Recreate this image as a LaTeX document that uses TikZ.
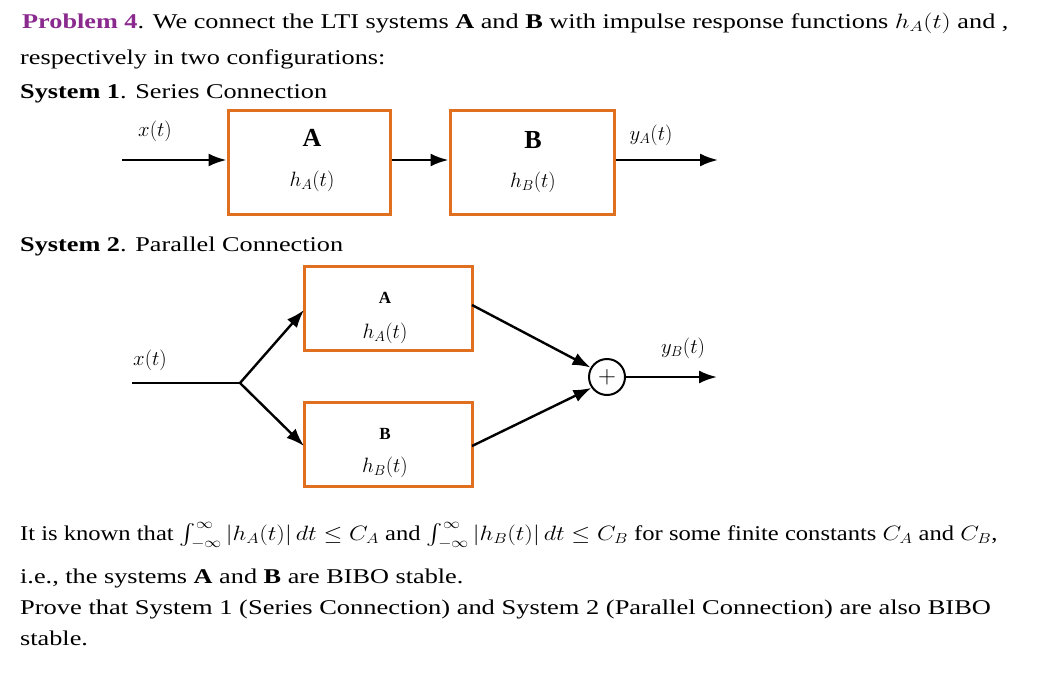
\documentclass[tikz,border=0pt]{standalone}
\usepackage{fontspec}
\setmainfont{Liberation Serif}
\usepackage{amsmath}
\usetikzlibrary{arrows.meta}
\definecolor{orb}{HTML}{E07020}
\definecolor{purp}{HTML}{8B2A8E}
\newcommand{\wideln}[2][1.25]{\scalebox{#1}[1]{#2}}
\begin{document}
\begin{tikzpicture}[x=1pt,y=-1pt,
  box/.style={draw=orb,line width=3pt,minimum width=#1,inner sep=0pt},
  txt/.style={anchor=base west,inner sep=0pt,font=\fontsize{21}{25}\selectfont},
  lab/.style={inner sep=0pt,font=\fontsize{20}{22}\selectfont},
  arr/.style={line width=2.4pt,-{Latex[length=18pt,width=13pt]}},
  ln/.style={line width=2.4pt}]
\useasboundingbox (0,0) rectangle (1064,672);
\node[txt] (t1) at (22,28) {\wideln{\textcolor{purp}{\textbf{Problem 4}}. We connect the LTI systems \textbf{A} and \textbf{B} with impulse response functions $h_{A}(t)$ and ,}};
\node[txt] (t2) at (20,64) {\wideln{respectively in two configurations:}};
\node[txt] (t3) at (20,98) {\wideln{\textbf{System 1}. Series Connection}};
% system 1
\node[box=162pt,minimum height=104pt] (A1) at (309,162) {};
\node[box=164pt,minimum height=104pt] (B1) at (532,162) {};
\node[lab,font=\bfseries\fontsize{26}{30}\selectfont] (A1t) at (312,138) {A};
\node[lab] (A1h) at (312,181) {$h_{A}(t)$};
\node[lab,font=\bfseries\fontsize{26}{30}\selectfont] (B1t) at (533,140) {B};
\node[lab] (B1h) at (533,182) {$h_{B}(t)$};
\coordinate (in1) at (122,160);
\coordinate (out1) at (718,160);
\draw[arr] (in1) -- (A1.west|-in1);
\draw[arr] (A1.east|-in1) -- (B1.west|-in1);
\draw[arr] (B1.east|-in1) -- (out1);
\node[lab] (x1) at (155,131) {$x(t)$};
\node[lab] (y1) at (651,135) {$y_{A}(t)$};
% system 2
\node[txt] (t4) at (20,251) {\wideln{\textbf{System 2}. Parallel Connection}};
\node[box=168pt,minimum height=84pt] (A2) at (388,308) {};
\node[box=168pt,minimum height=84pt] (B2) at (388,444) {};
\node[lab,font=\bfseries\fontsize{17}{20}\selectfont] (A2t) at (385,298) {A};
\node[lab] (A2h) at (385,333) {$h_{A}(t)$};
\node[lab,font=\bfseries\fontsize{17}{20}\selectfont] (B2t) at (385,434) {B};
\node[lab] (B2h) at (385,467) {$h_{B}(t)$};
\node[draw,circle,line width=2pt,minimum size=36pt,inner sep=0pt,font=\fontsize{24}{24}\selectfont] (S) at (607,377) {$+$};
\coordinate (in2) at (132,383);
\coordinate (br) at (240,383);
\coordinate (out2) at (717,377);
\draw[ln] (in2) -- (br);
\draw[arr] (br) -- (304,310);
\draw[arr] (br) -- (304,446);
\draw[arr] (472,305) -- (S.150);
\draw[arr] (472,446) -- (S.215);
\draw[arr] (S.east) -- (out2);
\node[lab] (x2) at (150,360) {$x(t)$};
\node[lab] (y2) at (683,348) {$y_{B}(t)$};
% bottom text
\node[txt] (t5) at (20,540) {\wideln[1.17]{It is known that $\int_{-\infty}^{\infty}\left|h_{A}(t)\right|dt\le C_{A}$ and $\int_{-\infty}^{\infty}\left|h_{B}(t)\right|dt\le C_{B}$ for some finite constants $C_{A}$ and $C_{B}$,}};
\node[txt] (t6) at (20,583) {\wideln{i.e., the systems \textbf{A} and \textbf{B} are BIBO stable.}};
\node[txt] (t7) at (20,614) {\wideln[1.26]{Prove that System 1 (Series Connection) and System 2 (Parallel Connection) are also BIBO}};
\node[txt] (t8) at (20,645) {\wideln{stable.}};
\end{tikzpicture}
\end{document}
